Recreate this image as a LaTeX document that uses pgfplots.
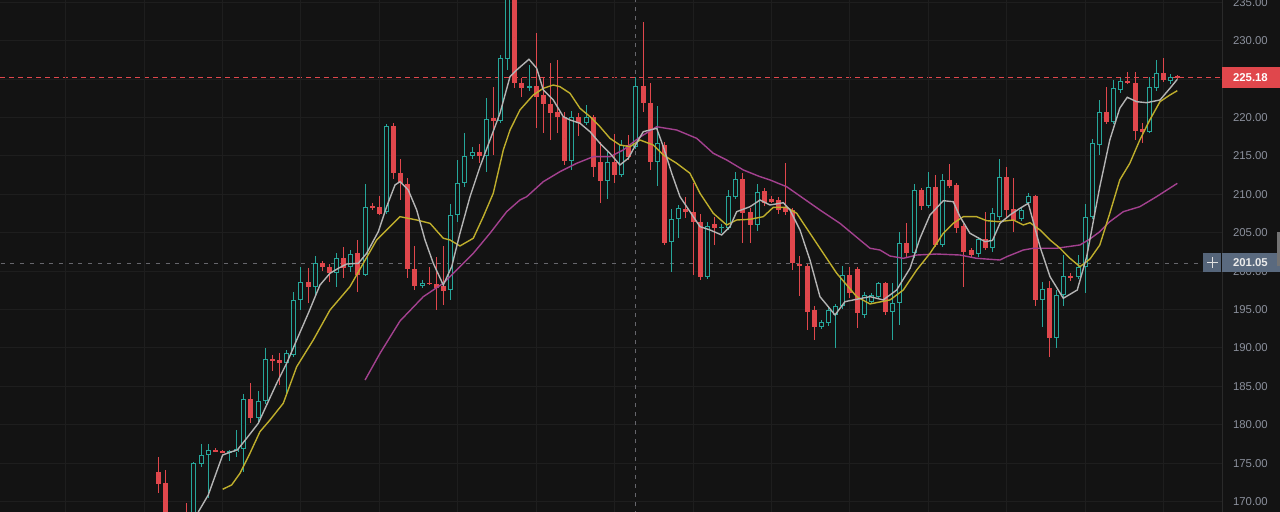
\documentclass[border=0pt]{standalone}
\usepackage{pgfplots}
\pgfplotsset{compat=1.18}
\usepackage{pgfplotstable}
\usepackage{fontspec}
\setmainfont{Liberation Sans}
\definecolor{bg}{HTML}{131313}
\definecolor{gridc}{HTML}{1E1E1E}
\definecolor{sepc}{HTML}{2A2A2A}
\definecolor{labc}{HTML}{8B909C}
\definecolor{upc}{HTML}{26A69A}
\definecolor{dnc}{HTML}{E0474C}
\definecolor{ma5}{HTML}{B4B4B4}
\definecolor{ma10}{HTML}{BFAE2C}
\definecolor{ma30}{HTML}{A3418F}
\definecolor{crossc}{HTML}{66666C}
\definecolor{tagc}{HTML}{5A6A7F}
\definecolor{plusc}{HTML}{55657A}

\pgfplotstableread{
i o h l c
0 173.90 175.81 171.12 172.30
1 172.47 174.10 166.00 167.00
2 167.00 168.00 164.00 165.50
3 165.50 167.50 164.50 166.50
4 168.00 169.80 165.50 166.50
5 166.50 175.10 166.00 175.00
6 174.90 177.47 174.48 176.10
7 176.10 177.50 170.50 176.70
8 176.70 177.00 176.40 176.50
9 176.55 176.70 176.30 176.45
10 176.40 176.70 175.30 176.60
11 176.40 179.30 175.85 176.85
12 176.85 183.97 173.90 183.36
13 183.36 185.40 180.20 180.93
14 180.93 184.40 180.07 183.10
15 183.10 190.04 182.70 188.53
16 188.57 189.05 187.05 188.30
17 188.40 189.30 185.20 188.00
18 188.00 189.75 183.90 189.30
19 189.10 197.25 188.80 196.25
20 196.25 200.58 194.95 198.63
21 198.63 200.40 195.80 197.98
22 197.90 201.97 196.90 201.02
23 201.00 201.30 200.06 200.60
24 200.58 200.90 198.63 199.80
25 199.73 202.40 197.98 201.68
26 201.76 203.20 199.07 200.37
27 200.58 202.76 199.90 202.23
28 202.40 204.06 197.33 199.50
29 199.50 211.35 199.40 208.31
30 208.50 208.90 207.90 208.20
31 208.30 209.80 207.30 207.50
32 207.74 219.10 207.50 218.90
33 218.90 219.30 212.00 212.74
34 212.80 214.56 209.26 211.50
35 211.30 212.09 199.07 200.24
36 200.24 203.27 197.55 198.07
37 198.07 198.80 197.80 198.50
38 198.50 200.58 198.20 198.30
39 198.30 201.90 194.95 197.77
40 198.07 203.27 195.60 197.46
41 197.55 208.80 196.25 207.31
42 207.31 214.47 206.44 211.52
43 211.44 218.02 211.00 215.03
44 215.03 216.20 214.60 215.55
45 215.55 216.55 214.04 215.03
46 215.03 222.50 212.95 219.81
47 219.90 223.93 215.12 219.60
48 219.60 228.10 219.30 227.70
49 227.60 237.50 226.20 236.50
50 236.30 237.00 223.90 224.45
51 224.45 225.20 222.70 223.80
52 223.90 226.80 223.40 224.10
53 224.10 230.96 218.60 222.70
54 222.93 225.30 218.00 221.76
55 221.72 227.06 217.07 220.63
56 220.68 227.49 217.94 220.03
57 220.10 220.68 213.80 214.34
58 214.34 220.90 213.17 220.10
59 220.10 220.55 217.60 219.33
60 219.25 221.60 219.00 220.10
61 220.10 220.30 212.30 213.60
62 214.17 216.85 208.90 211.74
63 211.74 215.55 209.35 214.17
64 214.17 217.85 211.52 212.52
65 212.52 217.07 212.30 216.42
66 216.42 217.72 214.47 214.90
67 216.20 225.30 215.90 224.10
68 224.10 232.40 220.76 221.93
69 221.85 224.50 213.17 214.25
70 214.25 221.50 211.09 216.64
71 216.42 216.80 203.40 203.71
72 203.84 208.05 199.93 206.75
73 206.75 208.60 204.28 208.18
74 208.10 209.60 206.90 207.70
75 207.74 211.52 199.50 206.44
76 206.44 207.44 198.85 199.28
77 199.28 206.44 199.00 205.88
78 206.10 207.10 203.40 205.58
79 205.60 206.20 205.00 205.80
80 205.58 210.57 205.30 209.78
81 209.60 212.95 209.40 211.96
82 211.96 212.74 203.62 207.61
83 207.74 208.20 203.60 206.00
84 206.00 211.40 205.20 210.35
85 210.48 210.80 208.50 208.90
86 209.35 209.80 208.90 209.04
87 209.20 209.60 207.40 207.90
88 208.30 214.12 207.30 207.74
89 207.96 208.20 200.20 201.02
90 200.94 201.97 196.77 200.68
91 200.71 200.90 192.33 194.72
92 194.95 195.40 191.05 192.77
93 192.77 193.60 192.50 193.42
94 193.29 195.40 192.80 194.95
95 194.30 195.77 189.96 195.40
96 195.40 200.68 195.10 199.50
97 199.50 200.60 196.50 197.12
98 200.24 200.60 192.60 194.52
99 194.30 197.30 193.90 196.90
100 196.03 197.20 195.80 196.90
101 196.68 198.60 196.40 198.40
102 198.42 198.60 194.30 194.72
103 194.72 198.50 191.05 195.80
104 195.80 205.14 193.00 203.62
105 203.62 206.31 201.90 202.33
106 202.33 211.31 201.70 210.57
107 210.57 210.80 207.90 208.48
108 208.48 212.95 208.20 210.92
109 210.92 212.52 203.20 203.41
110 203.41 212.66 203.20 211.87
111 211.87 213.95 210.80 211.09
112 211.22 211.50 205.00 205.58
113 205.88 206.10 197.98 202.53
114 202.76 203.00 201.80 202.10
115 202.23 204.50 201.90 204.15
116 204.15 207.74 202.70 202.98
117 202.98 208.20 202.50 207.60
118 207.00 214.56 206.70 212.22
119 212.22 213.52 207.00 207.96
120 208.05 212.09 205.14 206.66
121 206.75 208.40 206.50 207.96
122 208.91 210.20 208.70 209.78
123 209.78 209.90 195.40 196.25
124 196.25 198.63 192.77 197.64
125 197.77 198.76 188.87 191.26
126 191.26 197.60 190.00 196.90
127 196.90 202.10 195.40 199.37
128 199.40 199.80 198.70 199.20
129 199.20 202.10 199.00 200.50
130 200.50 208.80 197.10 207.10
131 207.10 217.16 206.80 216.64
132 216.42 222.30 215.10 220.76
133 220.76 224.00 219.20 219.46
134 219.46 224.88 219.20 223.80
135 223.60 225.10 223.20 224.80
136 224.80 225.96 224.30 224.50
137 224.53 225.96 217.07 218.28
138 218.46 219.25 216.72 218.15
139 218.15 225.23 217.94 223.93
140 223.80 227.49 223.50 225.75
141 225.75 227.70 224.66 224.88
142 224.80 225.60 224.40 225.23
143 225.35 225.50 225.05 225.18
}\candles

\pgfplotsset{candle/.style={only marks, mark=*, mark size=0pt,
  mark options={draw=none, fill=none}, restrict y to domain=100:300}}

\begin{document}
\begin{tikzpicture}
\path[use as bounding box] (0,0) rectangle (1280bp,512bp);
\fill[bg] (0,0) rectangle (1280bp,512bp);
% last-price line (y of 225.18 in this axis: (225.18-168.65)*7.6826 bp)
\draw[dnc, line width=1.2bp, dash pattern=on 5bp off 4bp] (0,434.3bp) -- (1222bp,434.3bp);
\begin{axis}[
  at={(0,0)}, anchor=south west,
  width=1222bp, height=512bp, scale only axis,
  xmin=-22.2, xmax=149.19, ymin=168.65, ymax=235.295,
  axis line style={draw=none},
  major tick length=0pt,
  xtick={-13,-2,9,20,31,42,53,64,75,86,97,108,119,130,141},
  xticklabels={},
  ytick={170,175,...,235},
  yticklabel pos=right,
  grid=major,
  major grid style={draw=gridc, line width=1bp},
  /pgf/number format/assume math mode=true,
  yticklabel={\pgfmathprintnumber[fixed,fixed zerofill,precision=2]{\tick}},
  yticklabel style={font=\fontsize{11.4}{13}\selectfont, text=labc, anchor=east, inner sep=0pt, xshift=46bp},
]
% crosshair
\addplot[draw=crossc, line width=1bp, dash pattern=on 4bp off 5bp, forget plot] coordinates {(67,160) (67,240)};
\addplot[draw=crossc, line width=1bp, dash pattern=on 4bp off 5.7bp, forget plot] coordinates {(-22.1,201.05) (150,201.05)};

% up candles: wicks, outer body, hollow inside
\addplot[candle,
  error bars/.cd, y dir=both, y explicit, error mark=none,
  error bar style={line width=1bp, color=upc}]
  table[x=i, y expr={\thisrow{c}>=\thisrow{o} ? (\thisrow{h}+\thisrow{l})/2 : 1000},
        y error expr={(\thisrow{h}-\thisrow{l})/2}] {\candles};
\addplot[candle,
  error bars/.cd, y dir=both, y explicit, error mark=none,
  error bar style={line width=5bp, color=upc}]
  table[x=i, y expr={\thisrow{c}>=\thisrow{o} ? (\thisrow{o}+\thisrow{c})/2 : 1000},
        y error expr={max(abs(\thisrow{c}-\thisrow{o})/2,0.065)}] {\candles};
\addplot[candle,
  error bars/.cd, y dir=both, y explicit, error mark=none,
  error bar style={line width=3bp, color=bg}]
  table[x=i, y expr={\thisrow{c}>=\thisrow{o} ? (\thisrow{o}+\thisrow{c})/2 : 1000},
        y error expr={max(abs(\thisrow{c}-\thisrow{o})/2-0.13,0)}] {\candles};
% down candles
\addplot[candle,
  error bars/.cd, y dir=both, y explicit, error mark=none,
  error bar style={line width=1bp, color=dnc}]
  table[x=i, y expr={\thisrow{c}<\thisrow{o} ? (\thisrow{h}+\thisrow{l})/2 : 1000},
        y error expr={(\thisrow{h}-\thisrow{l})/2}] {\candles};
\addplot[candle,
  error bars/.cd, y dir=both, y explicit, error mark=none,
  error bar style={line width=5bp, color=dnc}]
  table[x=i, y expr={\thisrow{c}<\thisrow{o} ? (\thisrow{o}+\thisrow{c})/2 : 1000},
        y error expr={max(abs(\thisrow{c}-\thisrow{o})/2,0.065)}] {\candles};

% moving averages
\addplot[ma30, line width=1.4bp] coordinates {
(29.0,185.83) (31.10,189.31) (33.90,193.51) (37.17,196.68) (39.97,198.42) (41.85,200.15) (44.18,202.32) (46.52,204.93) (48.86,207.74) (50.72,209.26) (51.67,209.69) (54.00,211.65) (56.34,212.95) (58.68,214.04) (61.01,214.90) (63.35,214.90) (65.22,215.77) (67.32,217.29) (68.02,217.72) (69.90,218.80) (72.71,218.37) (75.51,217.29) (77.84,215.34) (79.72,214.47) (82.05,213.17) (84.39,212.30) (85.79,211.87) (88.13,210.99) (90.46,209.48) (92.80,207.96) (95.60,206.23) (98.41,204.06) (99.82,202.98) (101.22,202.75) (102.62,201.97) (104.49,201.67) (106.37,202.10) (109.17,202.23) (112.44,202.10) (114.78,201.67) (118.05,201.45) (118.99,201.88) (121.32,202.75) (122.72,202.98) (126.00,202.98) (129.27,203.41) (130.67,204.19) (132.05,205.14) (133.45,206.44) (135.34,207.74) (137.66,208.39) (140.00,209.69) (142.92,211.43)
};
\addplot[ma10, line width=1.4bp] coordinates {
(9.03,171.61) (10.29,172.17) (11.46,173.69) (12.86,176.30) (14.26,179.11) (15.67,180.63) (17.53,182.80) (19.41,187.56) (21.74,191.04) (24.08,194.94) (26.88,197.98) (28.75,201.02) (30.63,204.06) (32.49,205.79) (33.90,207.09) (36.24,206.66) (38.11,206.23) (39.97,204.28) (40.91,204.06) (42.31,203.28) (44.18,204.28) (45.58,207.09) (46.98,210.13) (48.39,215.77) (49.33,218.37) (50.72,220.98) (52.59,222.93) (54.00,223.80) (55.40,224.23) (56.34,224.01) (57.74,223.15) (59.14,221.20) (60.55,220.11) (61.95,218.80) (63.35,217.29) (64.75,216.42) (66.16,216.20) (67.56,217.07) (69.42,216.42) (70.83,215.12) (72.71,214.04) (74.57,212.74) (75.98,210.13) (77.84,207.53) (79.72,206.01) (81.12,206.66) (82.99,206.75) (84.85,207.09) (86.26,208.31) (88.13,208.31) (89.54,207.53) (91.40,204.93) (93.27,202.33) (95.15,199.72) (96.55,198.20) (97.95,196.68) (99.82,195.73) (102.62,196.25) (104.49,197.55) (106.37,200.15) (108.23,202.32) (110.10,204.93) (111.50,206.23) (112.90,207.09) (114.78,207.09) (116.18,206.57) (117.81,206.44) (119.92,206.66) (121.32,206.01) (122.26,206.31) (123.66,205.36) (125.07,204.06) (126.47,202.98) (127.87,201.67) (129.27,200.58) (130.67,201.58) (132.05,203.40) (133.45,207.53) (134.85,211.87) (136.26,214.04) (137.66,217.07) (139.06,219.68) (140.49,222.06) (141.89,222.93) (142.92,223.49)
};
\addplot[ma5, line width=1.4bp] coordinates {
(5.61,168.65) (7.01,170.87) (9.03,176.07) (10.29,176.50) (11.08,176.72) (12.40,178.25) (14.03,180.20) (15.20,182.58) (16.61,185.41) (18.01,188.01) (19.41,191.04) (21.04,194.52) (22.68,198.20) (24.08,199.72) (25.25,200.37) (26.42,200.93) (28.05,201.02) (29.23,202.33) (30.86,205.14) (32.03,208.39) (33.20,211.22) (33.90,211.65) (35.06,210.56) (36.24,207.96) (37.41,204.06) (38.57,201.02) (39.97,198.20) (41.15,200.58) (42.31,204.93) (43.72,209.69) (45.12,213.59) (46.52,217.07) (47.92,220.54) (49.33,225.31) (50.27,226.19) (51.99,227.58) (53.07,226.41) (54.00,223.58) (55.40,222.28) (56.80,220.11) (57.74,219.68) (59.14,219.25) (60.55,218.15) (61.95,216.64) (63.35,215.34) (64.75,213.82) (65.92,214.69) (67.32,217.07) (68.02,218.15) (69.90,218.59) (70.83,216.20) (72.01,212.74) (73.17,209.69) (74.57,207.74) (75.98,205.79) (77.38,205.36) (79.02,204.71) (80.18,205.79) (81.12,207.74) (82.99,208.39) (84.39,209.26) (85.79,208.61) (87.66,208.91) (88.60,207.96) (90.00,205.36) (91.40,201.45) (92.80,196.68) (93.97,195.37) (94.91,194.30) (96.31,196.03) (97.95,196.34) (99.82,196.68) (101.68,196.25) (103.56,197.55) (105.43,200.37) (106.83,204.28) (108.23,207.31) (110.10,209.17) (111.50,209.04) (112.44,207.09) (113.84,204.93) (115.95,203.84) (117.00,204.00) (118.05,206.23) (119.45,207.31) (120.86,208.18) (122.02,208.83) (123.66,203.18) (125.07,199.28) (126.93,196.47) (128.89,197.55) (130.21,201.88) (132.05,210.99) (133.45,217.07) (134.85,221.20) (135.90,222.63) (137.22,222.06) (138.62,221.93) (140.49,222.28) (141.89,223.80) (142.92,224.97)
};
\end{axis}
\draw[sepc, line width=1bp] (1222.5bp,0) -- (1222.5bp,512bp);
% last price tag
\fill[dnc] (1222bp,423.7bp) rectangle (1280bp,445.3bp);
\node[anchor=east, text=white, font=\bfseries\fontsize{11.4}{13}\selectfont, inner sep=0pt] at (1268bp,434.5bp) {225.18};
% crosshair tag
\fill[plusc] (1203bp,240.3bp) rectangle (1221bp,258.7bp);
\fill[tagc] (1222bp,240.3bp) rectangle (1280bp,258.7bp);
\draw[white!88!black, line width=1.2bp] (1212.3bp,244bp) -- (1212.3bp,255bp) (1206.8bp,249.5bp) -- (1217.8bp,249.5bp);
\node[anchor=east, text=white!92!black, font=\bfseries\fontsize{11.4}{13}\selectfont, inner sep=0pt] at (1268bp,249.5bp) {201.05};
\fill[white!45!black] (1277bp,246bp) rectangle (1280bp,280bp);
\end{tikzpicture}
\end{document}
